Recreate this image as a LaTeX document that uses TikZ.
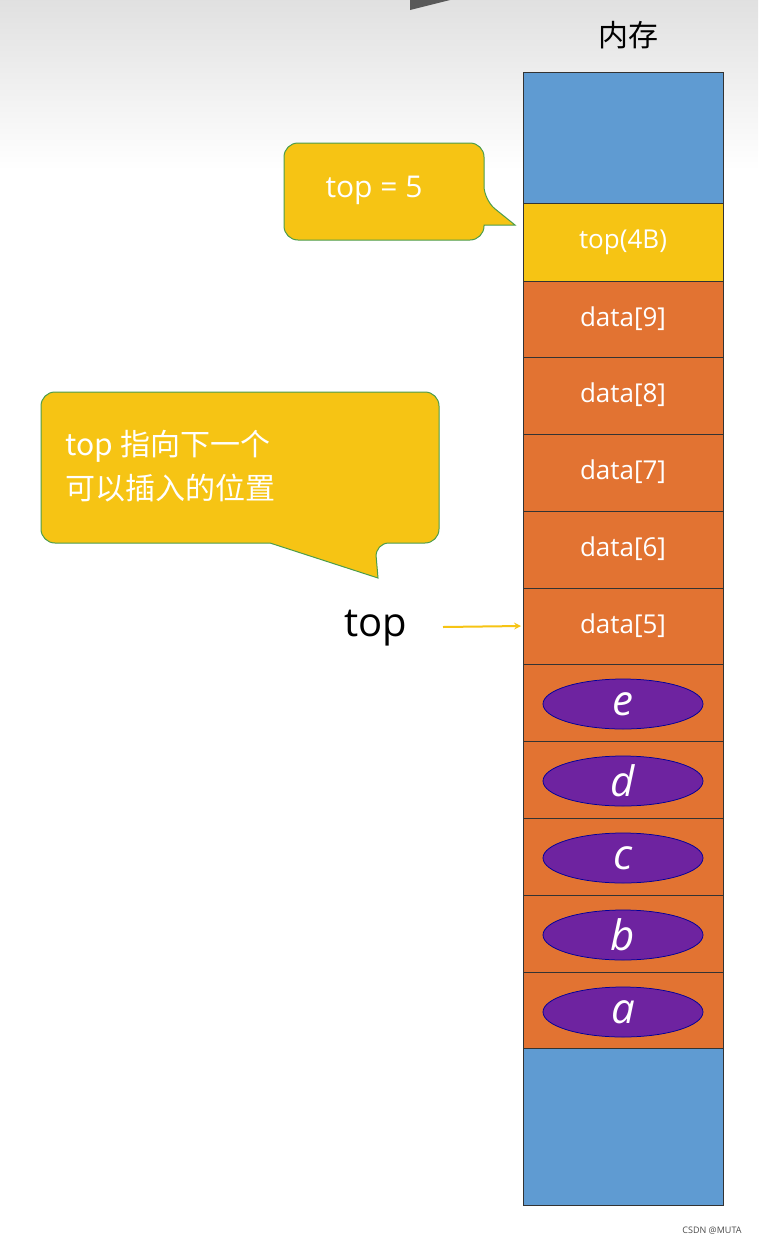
\documentclass[tikz,border=0pt]{standalone}
\usepackage{fontspec}
\setmainfont{Open Sans}
\newfontfamily\cjk{Noto Sans CJK SC}
\usetikzlibrary{shapes.geometric}
\definecolor{memblue}{RGB}{95,155,210}
\definecolor{cellorange}{RGB}{226,115,50}
\definecolor{calloutyellow}{RGB}{246,196,20}
\definecolor{elpurple}{RGB}{110,35,160}
\tikzset{every picture/.style={line width=0.75pt}}
\tikzset{
  cell/.style={draw=black!80,line width=1pt},
  celltext/.style={font=\fontsize{26}{30}\selectfont,text=white},
  elem/.style={ellipse,draw=blue!60!black,fill=elpurple,minimum width=160pt,minimum height=50pt,inner sep=0pt,font=\fontsize{42}{44}\selectfont\itshape,text=white},
  callout/.style={draw=green!45!black!70,fill=calloutyellow,line width=1pt,rounded corners=14pt}
}
\begin{document}
\begin{tikzpicture}[x=1pt,y=-1pt]
\useasboundingbox (0,0) rectangle (758,1245);
\shade[top color=black!12,bottom color=white] (0,0) rectangle (758,170);
\fill[white] (0,170) rectangle (758,1245);
\fill[black!65] (410,0) -- (450,0) -- (410,10) -- cycle;

% memory column
\node[font=\cjk\fontsize{30}{34}\selectfont] (mem) at (628,35) {内存};
\filldraw[cell,fill=memblue] (523,72) rectangle (723,203);
\filldraw[cell,fill=calloutyellow] (523,203) rectangle (723,281);
\node[celltext] (topcell) at (623,242) {top(4B)};
\foreach \i/\t in {9/281,8/357,7/434,6/511,5/588}{
  \filldraw[cell,fill=cellorange] (523,\t) rectangle (723,\t+77);
  \node[celltext] (d\i) at (623,\t+38) {data[\i]};
}
\foreach \n/\t in {e/664,d/741,c/818,b/895,a/972}{
  \filldraw[cell,fill=cellorange] (523,\t) rectangle (723,\t+77);
  \node[elem] (el\n) at (623,\t+40) {\n};
}
\filldraw[cell,fill=memblue] (523,1048) rectangle (723,1205);

% callouts
\draw[callout] (284,143) -- (484,143) -- (484,200) [sharp corners] -- (515,225) -- (484,225) [rounded corners=14pt] -- (484,240) -- (284,240) -- cycle;
\node[font=\fontsize{30}{34}\selectfont,text=white] (topval) at (374,190) {top = 5};
\draw[callout] (41,392) -- (439,392) -- (439,543) -- (375,543) [sharp corners] -- (378,578) -- (270,543) [rounded corners=14pt] -- (41,543) -- cycle;
\node[font=\cjk\fontsize{30}{44}\selectfont,text=white,align=left,anchor=west] (note) at (62,466) {top 指向下一个\\可以插入的位置};

% pointer
\node[font=\fontsize{40}{44}\selectfont] (toplbl) at (376,628) {top};
\coordinate (arrs) at (443,627);
\draw[-stealth,calloutyellow,line width=2pt] (arrs) -- (d5.west -| 521,627);

\node[font=\fontsize{9}{10}\selectfont,text=black!70] (mark) at (712,1231) {CSDN @MUTA};
\end{tikzpicture}
\end{document}
